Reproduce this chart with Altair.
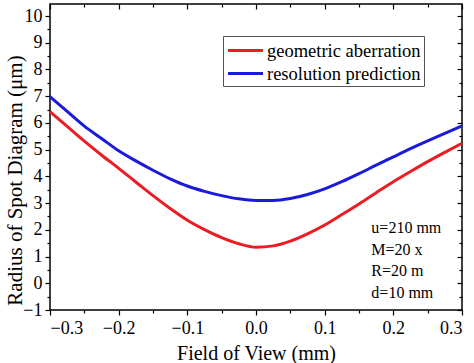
import altair as alt
import pandas as pd

# Field of view (mm) and spot-diagram radius (um) for the two curves
fov = [-0.300, -0.275, -0.250, -0.225, -0.200, -0.175, -0.150, -0.125, -0.100,
       -0.075, -0.050, -0.025, 0.000, 0.025, 0.050, 0.075, 0.100, 0.125, 0.150,
       0.175, 0.200, 0.225, 0.250, 0.275, 0.300]
geometric = [6.42, 5.87, 5.32, 4.80, 4.30, 3.79, 3.28, 2.80, 2.36,
             2.01, 1.71, 1.48, 1.35, 1.40, 1.58, 1.85, 2.18, 2.57, 2.97,
             3.39, 3.80, 4.18, 4.55, 4.90, 5.24]
resolution = [6.98, 6.43, 5.88, 5.42, 4.96, 4.58, 4.23, 3.91, 3.64,
              3.44, 3.28, 3.16, 3.10, 3.10, 3.17, 3.32, 3.53, 3.80, 4.10,
              4.42, 4.73, 5.04, 5.33, 5.61, 5.89]
series_names = ["geometric aberration", "resolution prediction"]
series_colors = ["#ec1c24", "#1a1adb"]

x_major = [-0.3, -0.2, -0.1, 0.0, 0.1, 0.2, 0.3]
x_minor = [-0.25, -0.15, -0.05, 0.05, 0.15, 0.25]
y_major = [-1, 0, 1, 2, 3, 4, 5, 6, 7, 8, 9, 10]
y_minor = [-0.5, 0.5, 1.5, 2.5, 3.5, 4.5, 5.5, 6.5, 7.5, 8.5, 9.5]

notes = ["u=210 mm", "M=20 x", "R=20 m", "d=10 mm"]
note_x = [0.168, 0.168, 0.168, 0.168]
note_y = [2.05, 1.25, 0.45, -0.35]

FONT = "Liberation Serif"
X_DOMAIN = [-0.3, 0.3]
Y_DOMAIN = [-1, 10.45]

curves = pd.DataFrame({
    "fov": fov * 2,
    "radius": geometric + resolution,
    "series": [series_names[0]] * len(fov) + [series_names[1]] * len(fov),
})
note_df = pd.DataFrame({"x": note_x, "y": note_y, "text": notes})

xs = alt.Scale(domain=X_DOMAIN, nice=False, zero=False)
ys = alt.Scale(domain=Y_DOMAIN, nice=False, zero=False)


def tick_axis(orient, values, size, offset=0):
    return alt.Axis(orient=orient, values=values, tickSize=size, offset=offset,
                    labels=False, domain=False, grid=False, tickColor="black",
                    tickWidth=1.2, title=None)


lines = alt.Chart(curves).mark_line(strokeWidth=3, interpolate="monotone").encode(
    x=alt.X("fov:Q", scale=xs,
            axis=alt.Axis(orient="bottom", values=x_major, format=".1f",
                          tickSize=5, tickWidth=1.2, tickColor="black",
                          domain=False, grid=False, labelPadding=4,
                          title="Field of View (mm)", titlePadding=6)),
    y=alt.Y("radius:Q", scale=ys,
            axis=alt.Axis(orient="left", values=y_major, format="d",
                          tickSize=5, tickWidth=1.2, tickColor="black",
                          domain=False, grid=False, labelPadding=3,
                          title="Radius of Spot Diagram (μm)",
                          titleFontSize=21, titleAlign="center",
                          titleBaseline="middle", titleAngle=270,
                          titleX=-35, titleY=176)),
    color=alt.Color("series:N",
                    scale=alt.Scale(domain=series_names, range=series_colors),
                    legend=alt.Legend(title=None, orient="none", legendX=173,
                                      legendY=32,
                                      symbolType="M-1.75,0H1.75",
                                      symbolStrokeWidth=3, symbolSize=400,
                                      symbolOffset=8,
                                      labelFontSize=18.5,
                                      labelColor="black", labelOffset=10,
                                      rowPadding=2, padding=3,
                                      strokeColor="#555", fillColor="white")),
)


def ghost(xaxis, yaxis):
    return alt.Chart(curves).mark_line(opacity=0).encode(
        x=alt.X("fov:Q", scale=xs, axis=xaxis),
        y=alt.Y("radius:Q", scale=ys, axis=yaxis),
    )


minor_bl = ghost(tick_axis("bottom", x_minor, 3), tick_axis("left", y_minor, 3))
major_tr = ghost(tick_axis("top", x_major, 5, offset=-5),
                 tick_axis("right", y_major, 5, offset=-5))
minor_tr = ghost(tick_axis("top", x_minor, 3, offset=-3),
                 tick_axis("right", y_minor, 3, offset=-3))

text = alt.Chart(note_df).mark_text(align="left", baseline="middle",
                                    font=FONT, fontSize=16, color="black").encode(
    x=alt.X("x:Q", scale=xs, axis=None),
    y=alt.Y("y:Q", scale=ys, axis=None),
    text="text:N")

chart = alt.layer(lines, minor_bl, major_tr, minor_tr, text).resolve_axis(
    x="independent", y="independent"
).properties(
    width=412, height=306,
    padding={"left": 50, "top": 4, "right": 12, "bottom": 53},
    autosize=alt.AutoSizeParams(type="none"),
    background="white",
).configure(
    font=FONT,
    style={"guide-label": {"font": FONT}, "guide-title": {"font": FONT}},
).configure_view(
    stroke="black", strokeWidth=1.5
).configure_axis(
    labelFont=FONT, labelFontSize=18, labelColor="black",
    titleFont=FONT, titleFontSize=20, titleFontWeight="normal",
    titleColor="black",
).configure_legend(labelFont=FONT)

chart.save("out.html", embed_options={"renderer": "svg", "actions": False})
